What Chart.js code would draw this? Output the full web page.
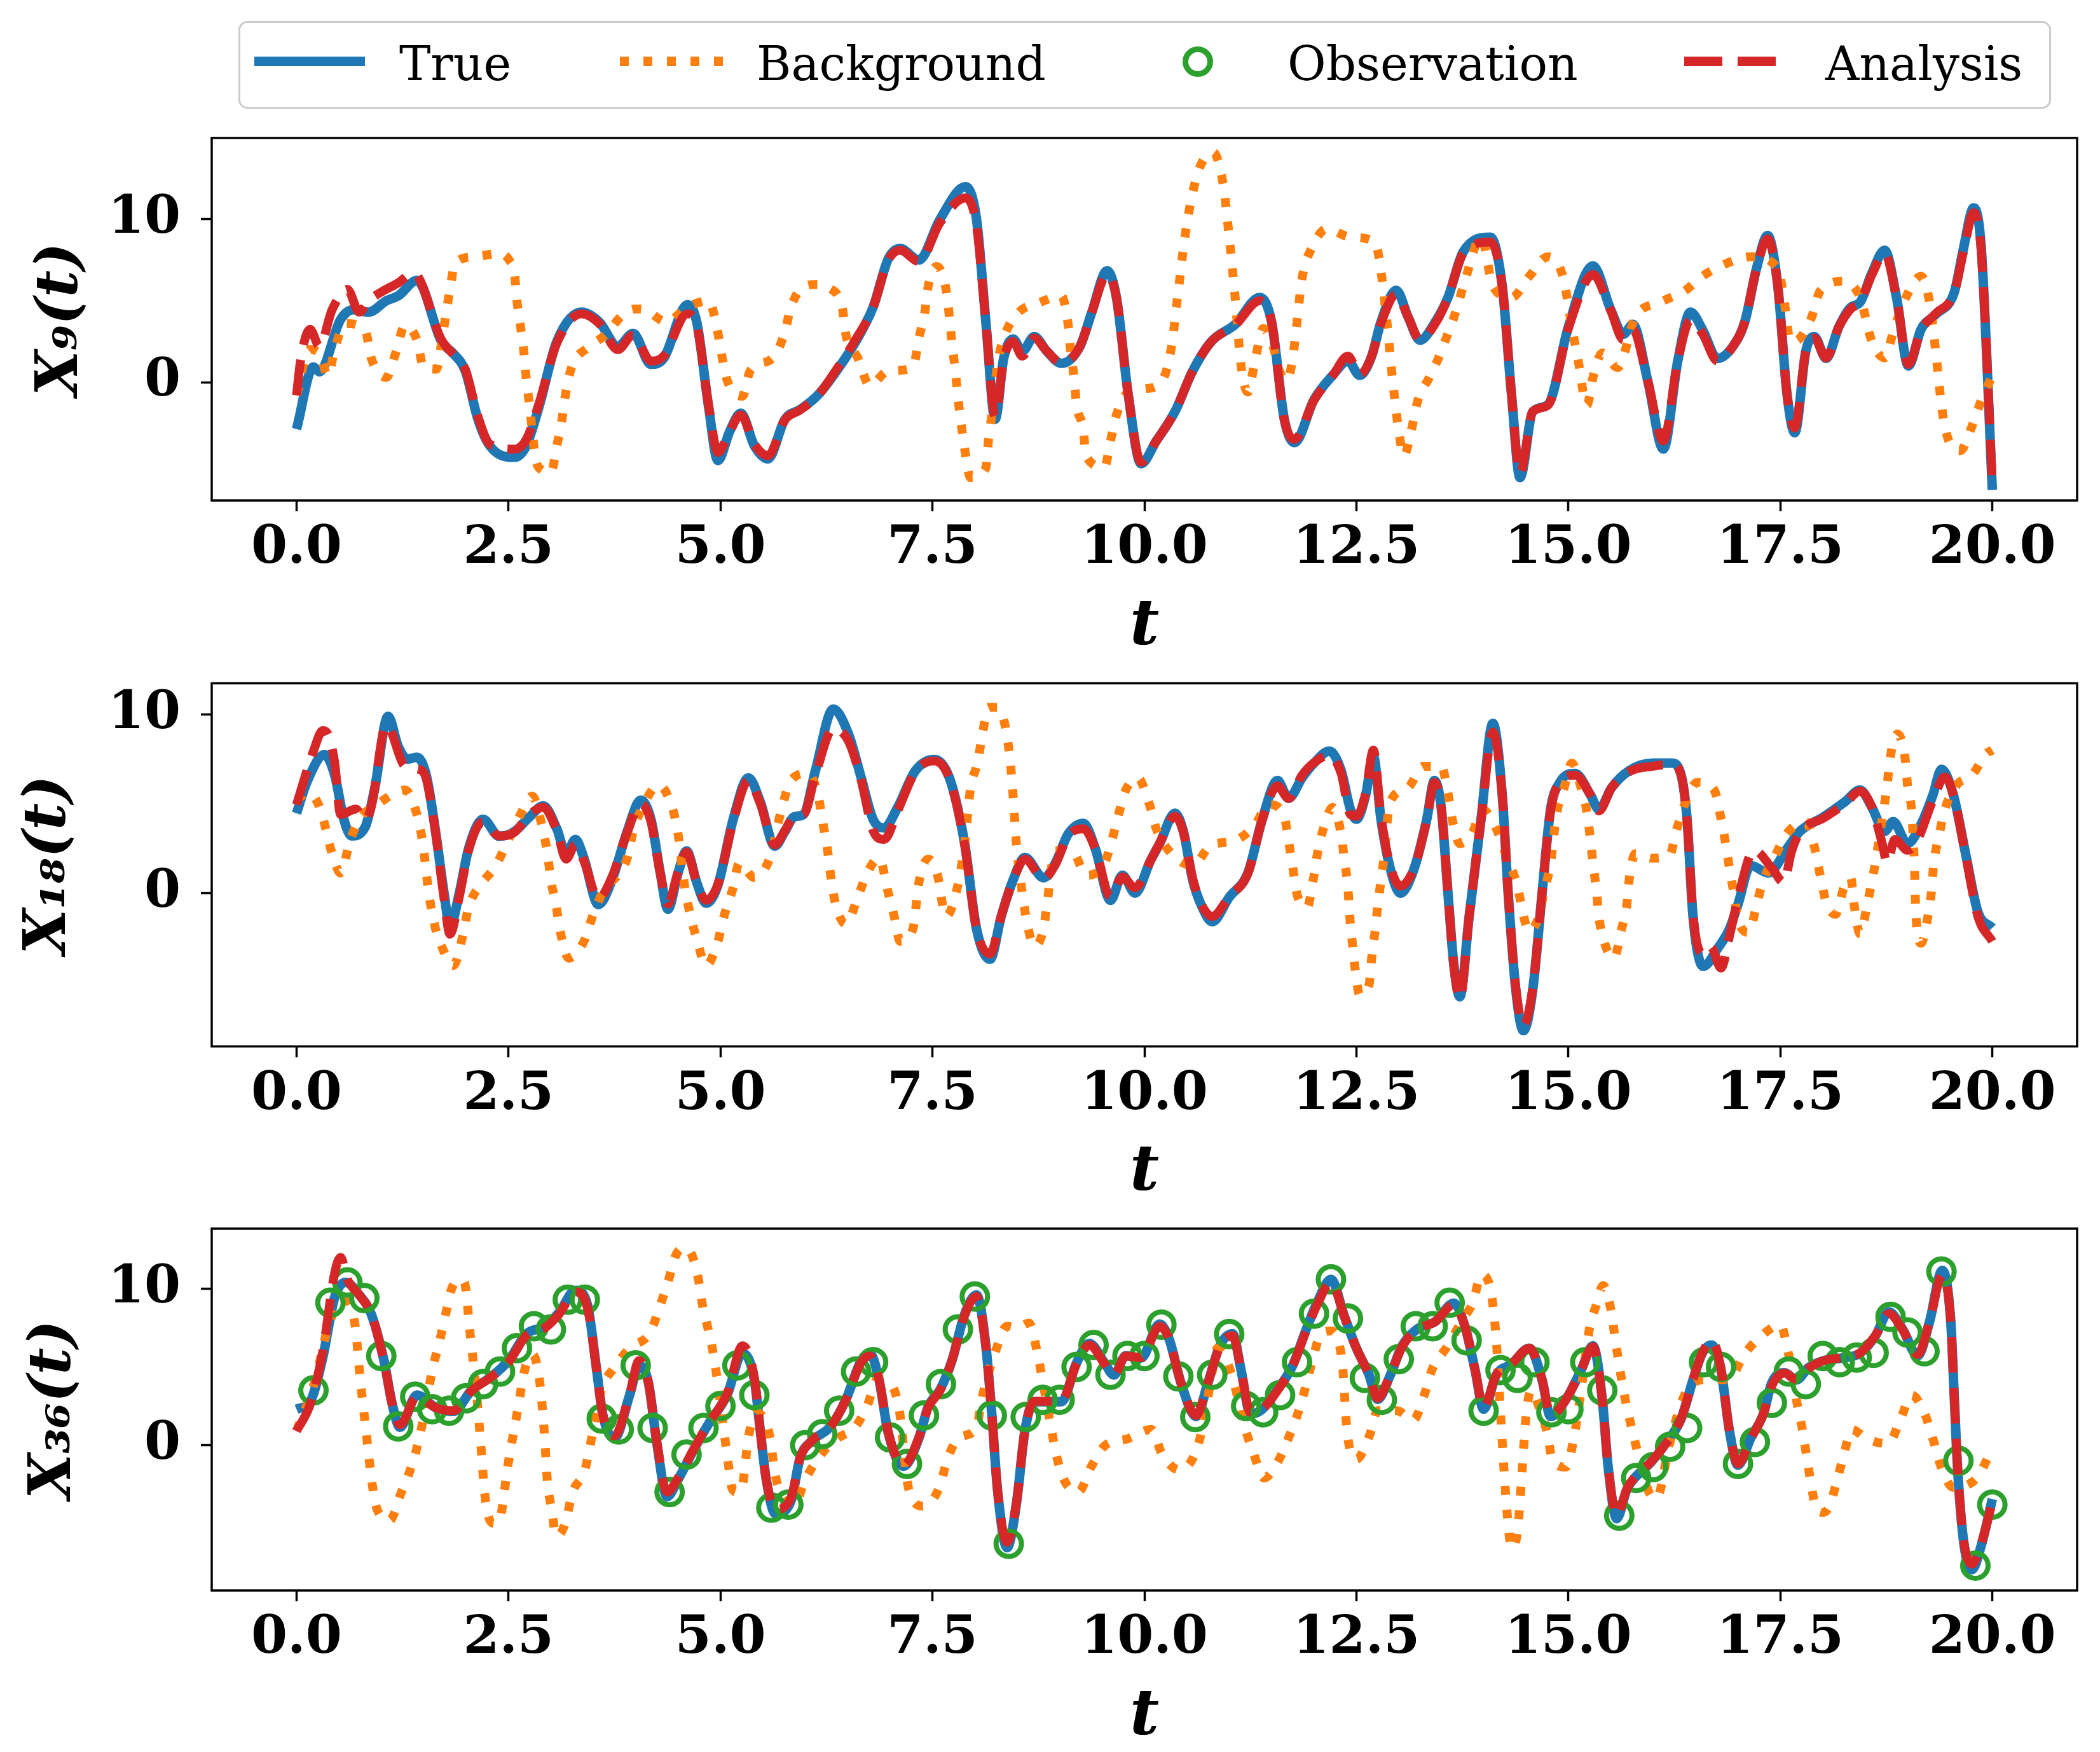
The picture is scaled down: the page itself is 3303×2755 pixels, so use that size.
<!DOCTYPE html>
<html>
<head>
<meta charset="utf-8">
<title>Lorenz-96 analysis</title>
<script src="https://cdn.jsdelivr.net/npm/chart.js@4.4.1/dist/chart.umd.min.js"></script>
<style>
  html, body { margin: 0; padding: 0; background: #fff; }
  body { width: 3303px; height: 2755px; position: relative; overflow: hidden; }
  canvas { position: absolute; left: 0; top: 0; }
  #legend { position: absolute; left: 375px; top: 33px; width: 2851px; height: 138px; box-sizing: border-box;
            border: 3px solid #cccccc; border-radius: 14px; background: #fff; }
  .lg-text { position: absolute; top: 27px; font: 74px 'DejaVu Serif'; line-height: 74px; color: #000; white-space: nowrap; }
  .lg-handle { position: absolute; }
</style>
</head>
<body>
<div id="legend"></div>
<canvas id="c1" width="3303" height="2755"></canvas>
<canvas id="c2" width="3303" height="2755"></canvas>
<canvas id="c3" width="3303" height="2755"></canvas>
<script>
// ---------------------------------------------------------------- data ([t, value])
var xTicks = [0, 2.5, 5, 7.5, 10, 12.5, 15, 17.5, 20];
var yTicks = [0, 10];
var seriesNames = ['True', 'Background', 'Observation', 'Analysis'];

var x9True = [[0,-2.87],[0.2,0.94],[0.27,0.64],[0.52,3.85],[0.67,4.45],[0.85,4.3],[1.06,5.0],[1.2,5.3],[1.42,6.24],[1.71,2.5],[1.85,1.76],[1.99,0.7],[2.14,-2.27],[2.28,-3.9],[2.57,-4.6],[2.71,-3.9],[2.86,-1.5],[3.07,2.5],[3.36,4.3],[3.57,3.7],[3.79,2.2],[3.97,3.0],[4.18,1.1],[4.33,1.46],[4.61,4.75],[4.72,3.7],[4.86,-1.5],[4.97,-4.8],[5.11,-3.0],[5.24,-1.9],[5.4,-3.9],[5.56,-4.7],[5.76,-2.27],[5.94,-1.67],[6.15,-0.78],[6.37,0.7],[6.58,2.36],[6.8,4.6],[6.98,7.58],[7.12,8.2],[7.34,7.5],[7.59,10.0],[7.89,12.0],[8.02,10.0],[8.13,3.7],[8.24,-2.27],[8.34,1.46],[8.45,2.66],[8.56,1.9],[8.7,2.8],[8.85,1.9],[9.02,1.16],[9.24,2.2],[9.38,4.3],[9.56,6.84],[9.67,5.2],[9.81,-0.78],[9.96,-5.0],[10.14,-3.6],[10.36,-1.8],[10.57,0.7],[10.79,2.5],[11.07,3.55],[11.36,5.2],[11.5,3.7],[11.65,-2.27],[11.77,-3.7],[12.0,-1.07],[12.22,0.42],[12.4,1.3],[12.54,0.42],[12.68,1.6],[12.79,3.7],[12.97,5.64],[13.11,4.0],[13.25,2.58],[13.43,3.7],[13.58,5.2],[13.76,8.0],[14.08,8.9],[14.22,5.9],[14.33,-0.78],[14.43,-5.85],[14.58,-1.8],[14.76,-1.37],[15.0,3.4],[15.29,7.13],[15.5,4.45],[15.65,2.95],[15.76,3.55],[15.94,0],[16.12,-4.1],[16.29,1.3],[16.44,4.3],[16.58,3.25],[16.76,1.46],[16.94,2.2],[17.08,3.7],[17.22,7.0],[17.35,9.0],[17.47,5.9],[17.58,-0.78],[17.67,-3.1],[17.8,1.9],[17.9,2.8],[18.04,1.46],[18.19,3.4],[18.33,4.6],[18.44,4.9],[18.58,6.7],[18.73,8.1],[18.87,5.2],[19.01,1.0],[19.16,3.25],[19.33,4.15],[19.55,5.5],[19.66,8.2],[19.78,10.7],[19.87,8.2],[20.0,-6.6]];

var x9Analysis = [[0,-0.8],[0.05,1.4],[0.16,3.25],[0.27,2.2],[0.42,4.45],[0.6,5.7],[0.74,4.3],[0.85,5.0],[0.99,5.5],[1.2,6.1],[1.38,6.7],[1.71,2.6],[1.85,1.7],[1.99,0.8],[2.14,-2.1],[2.28,-3.8],[2.57,-4.1],[2.71,-3.5],[2.86,-1.3],[3.07,2.4],[3.36,4.2],[3.57,3.6],[3.79,2.0],[3.97,2.9],[4.18,1.3],[4.33,1.6],[4.61,4.2],[4.72,3.5],[4.86,-1.4],[4.97,-4.3],[5.11,-3.0],[5.24,-2.0],[5.4,-3.8],[5.56,-4.5],[5.76,-2.3],[5.94,-1.7],[6.15,-0.8],[6.37,0.8],[6.58,2.5],[6.8,4.6],[6.98,7.5],[7.12,8.1],[7.34,7.4],[7.59,9.8],[7.89,11.3],[8.02,9.6],[8.13,3.7],[8.24,-2.1],[8.34,1.4],[8.45,2.5],[8.56,1.6],[8.7,2.7],[8.85,1.9],[9.02,1.2],[9.24,2.2],[9.38,4.3],[9.56,6.6],[9.67,5.2],[9.81,-0.8],[9.96,-4.9],[10.14,-3.6],[10.36,-1.8],[10.57,0.7],[10.79,2.5],[11.07,3.5],[11.36,5.0],[11.5,3.7],[11.65,-2.3],[11.77,-3.5],[12.0,-1.1],[12.22,0.4],[12.4,1.6],[12.54,0.5],[12.68,1.6],[12.79,3.6],[12.97,5.4],[13.11,4.0],[13.25,2.6],[13.43,3.6],[13.58,5.2],[13.76,7.9],[14.08,8.6],[14.22,5.9],[14.33,-0.8],[14.43,-5.6],[14.58,-1.8],[14.76,-1.4],[15.0,3.3],[15.29,6.6],[15.5,4.4],[15.65,2.6],[15.76,3.2],[15.94,0],[16.12,-3.6],[16.29,1.3],[16.44,3.8],[16.58,3.0],[16.76,1.3],[16.94,2.2],[17.08,3.7],[17.22,7.0],[17.35,8.8],[17.47,5.9],[17.58,-0.8],[17.67,-2.8],[17.8,1.9],[17.9,2.7],[18.04,1.5],[18.19,3.4],[18.33,4.5],[18.44,4.9],[18.58,6.6],[18.73,7.9],[18.87,5.2],[19.01,1.1],[19.16,3.2],[19.33,4.2],[19.55,5.5],[19.66,8.0],[19.78,10.4],[19.87,8.0],[20.0,-6.2]];

var x9Background = [[0,-0.8],[0.15,2.0],[0.27,1.8],[0.37,0.4],[0.45,2.0],[0.57,3.6],[0.81,3.2],[0.88,1.5],[1.06,0.3],[1.17,1.8],[1.28,3.5],[1.42,2.6],[1.5,0.9],[1.65,0.8],[1.71,2.4],[1.76,4.1],[1.81,5.7],[1.87,7.3],[2.1,7.7],[2.41,7.9],[2.52,7.4],[2.57,6.7],[2.6,5.0],[2.64,3.5],[2.68,1.9],[2.71,0.2],[2.75,-1.5],[2.82,-4.7],[2.9,-5.4],[3.0,-5.55],[3.07,-3.9],[3.13,-2.3],[3.18,-0.5],[3.25,1.0],[3.43,2.1],[3.64,2.9],[3.86,4.2],[4.0,4.5],[4.11,4.45],[4.36,3.7],[4.61,4.6],[4.86,5.0],[4.96,3.3],[5.01,1.8],[5.08,0.1],[5.26,-0.85],[5.35,0.7],[5.62,1.5],[5.76,3.1],[5.83,4.6],[6.0,5.9],[6.15,6.0],[6.28,5.8],[6.44,4.45],[6.48,2.9],[6.62,1.5],[6.76,-0.2],[6.98,0.7],[7.27,0.9],[7.34,2.7],[7.41,4.3],[7.45,5.9],[7.55,7.1],[7.66,5.7],[7.7,4.0],[7.73,2.4],[7.77,0.7],[7.8,-0.9],[7.84,-2.6],[7.88,-4.1],[7.95,-5.85],[8.13,-5.25],[8.16,-3.6],[8.2,-2.0],[8.27,1.2],[8.34,2.7],[8.49,4.15],[8.77,4.9],[9.02,5.3],[9.1,3.55],[9.13,1.9],[9.17,0.3],[9.2,-1.4],[9.28,-2.9],[9.31,-4.5],[9.53,-5.2],[9.6,-3.6],[9.67,-2.0],[9.81,-0.6],[10.0,-0.4],[10.21,0.1],[10.32,2.2],[10.39,5.2],[10.5,9.7],[10.64,13.0],[10.81,14.1],[10.93,12.1],[11.0,8.9],[11.07,5.2],[11.14,1.0],[11.22,-0.6],[11.3,1.2],[11.4,3.3],[11.5,2.5],[11.6,0.6],[11.68,0.1],[11.75,1.5],[11.79,3.25],[11.86,6.4],[11.97,8.2],[12.15,9.4],[12.43,8.9],[12.72,8.6],[12.79,6.8],[12.86,3.7],[12.93,0.0],[13.0,-3.0],[13.06,-4.5],[13.15,-2.9],[13.22,-1.2],[13.36,0.3],[13.47,1.5],[13.58,3.0],[13.68,4.45],[13.79,6.4],[13.97,8.9],[14.11,5.9],[14.33,5.2],[14.54,6.5],[14.76,7.7],[14.94,6.4],[15.04,3.4],[15.11,1.5],[15.22,-1.4],[15.29,0.3],[15.4,1.8],[15.58,0.9],[15.79,4.0],[16.08,4.9],[16.37,5.6],[16.58,6.5],[16.87,7.3],[17.15,7.7],[17.47,7.0],[17.54,5.2],[17.62,2.5],[17.73,2.7],[17.87,4.0],[17.97,5.6],[18.26,6.2],[18.44,5.2],[18.58,2.5],[18.73,1.5],[18.84,3.25],[18.98,5.2],[19.16,6.5],[19.27,4.6],[19.34,1.5],[19.41,-1.8],[19.48,-3.5],[19.62,-4.2],[19.76,-2.7],[19.87,-1.1],[20.0,0.4]];

var x18True = [[0,4.47],[0.13,6.3],[0.33,7.75],[0.45,6.6],[0.56,4.1],[0.65,3.2],[0.81,3.7],[0.92,5.8],[1.08,9.9],[1.2,8.2],[1.31,7.5],[1.42,7.6],[1.53,6.6],[1.64,3.45],[1.74,0],[1.81,-1.87],[1.92,0],[2.03,2.5],[2.2,4.13],[2.39,3.18],[2.57,3.45],[2.75,4.27],[2.91,4.88],[3.07,3.6],[3.18,2.2],[3.29,3.0],[3.39,1.95],[3.56,-0.64],[3.72,0.72],[3.9,3.45],[4.06,5.2],[4.18,4.13],[4.29,1.13],[4.38,-0.9],[4.5,1.13],[4.6,2.36],[4.72,0.6],[4.83,-0.57],[4.97,0.45],[5.15,4.13],[5.33,6.45],[5.47,5.1],[5.64,2.63],[5.76,3.45],[5.87,4.27],[5.98,4.4],[6.12,6.86],[6.33,10.3],[6.51,8.9],[6.66,6.45],[6.8,4.13],[6.93,3.65],[7.09,4.8],[7.3,6.86],[7.52,7.48],[7.7,6.45],[7.88,2.77],[8.02,-2.0],[8.18,-3.7],[8.31,-1.32],[8.45,0.72],[8.59,2.0],[8.81,0.86],[8.95,1.68],[9.1,3.3],[9.28,3.9],[9.42,2.5],[9.6,-0.4],[9.74,1.0],[9.89,0],[10.07,1.8],[10.18,2.77],[10.36,4.47],[10.46,3.45],[10.57,0.72],[10.68,-0.78],[10.8,-1.6],[11.0,-0.23],[11.22,1.13],[11.39,4.13],[11.57,6.3],[11.7,5.3],[11.86,6.45],[12.0,7.27],[12.18,7.95],[12.32,6.86],[12.43,4.68],[12.5,4.13],[12.61,5.5],[12.7,7.68],[12.79,4.13],[12.9,1.36],[13.02,0],[13.18,1.36],[13.33,4.13],[13.42,6.3],[13.5,4.8],[13.58,0],[13.65,-4.05],[13.72,-5.8],[13.83,-1.3],[13.97,4.13],[14.11,9.5],[14.22,5.5],[14.29,0],[14.38,-5.4],[14.47,-7.7],[14.58,-5.4],[14.69,0],[14.79,4.68],[14.9,6.2],[15.08,6.7],[15.26,5.5],[15.36,4.68],[15.51,5.9],[15.72,6.86],[16.0,7.27],[16.22,7.27],[16.33,6.6],[16.4,4.13],[16.47,-1.3],[16.59,-4.1],[16.76,-3.1],[16.9,-2.0],[17.0,-0.64],[17.15,1.54],[17.36,1.13],[17.58,2.5],[17.73,3.45],[18.01,4.27],[18.26,5.1],[18.44,5.77],[18.58,4.8],[18.73,3.45],[18.83,4.0],[19.0,2.77],[19.16,3.86],[19.3,5.5],[19.4,6.93],[19.54,5.5],[19.69,2.08],[19.83,-1.05],[20.0,-1.94]];

var x18Analysis = [[0,4.95],[0.2,7.95],[0.31,9.1],[0.38,8.8],[0.45,7.3],[0.52,4.4],[0.7,4.7],[0.81,4.1],[0.88,4.8],[1.06,9.4],[1.28,7.1],[1.46,6.9],[1.53,6.4],[1.64,3.4],[1.74,-0.3],[1.81,-2.3],[1.92,-0.2],[2.03,2.4],[2.2,4.0],[2.39,3.2],[2.57,3.4],[2.75,4.4],[2.91,4.8],[3.07,3.5],[3.18,1.9],[3.29,2.7],[3.39,1.8],[3.56,-0.3],[3.72,0.9],[3.9,3.4],[4.06,5.0],[4.18,4.0],[4.29,1.1],[4.38,-0.6],[4.5,1.2],[4.6,2.3],[4.72,0.6],[4.83,-0.4],[4.97,0.5],[5.15,4.0],[5.33,6.3],[5.47,5.0],[5.64,2.7],[5.76,3.5],[5.87,4.3],[5.98,4.4],[6.12,6.6],[6.33,9.2],[6.51,8.5],[6.66,6.3],[6.8,3.5],[6.93,3.0],[7.09,4.6],[7.3,6.8],[7.52,7.4],[7.7,6.4],[7.88,2.7],[8.02,-2.0],[8.18,-3.4],[8.31,-1.3],[8.45,0.7],[8.59,1.9],[8.81,0.8],[8.95,1.6],[9.1,3.2],[9.28,3.6],[9.42,2.5],[9.6,-0.2],[9.74,0.9],[9.89,0.3],[10.07,1.8],[10.18,2.8],[10.36,4.3],[10.46,3.4],[10.57,0.8],[10.68,-0.7],[10.8,-1.3],[11.0,-0.2],[11.22,1.1],[11.39,4.1],[11.57,6.0],[11.7,5.3],[11.86,6.6],[12.0,7.3],[12.18,7.7],[12.32,6.7],[12.43,4.4],[12.5,4.3],[12.61,5.6],[12.7,8.0],[12.79,4.3],[12.9,1.5],[13.02,0.4],[13.18,1.4],[13.33,4.1],[13.42,6.2],[13.5,4.8],[13.58,0],[13.65,-4.1],[13.72,-5.9],[13.83,-1.3],[13.97,4.1],[14.11,9.0],[14.22,5.5],[14.29,0],[14.38,-5.3],[14.47,-7.4],[14.58,-5.3],[14.69,0],[14.79,4.6],[14.9,6.2],[15.08,6.6],[15.26,5.5],[15.36,4.6],[15.51,5.9],[15.72,6.8],[16.0,7.1],[16.22,7.2],[16.33,6.6],[16.4,4.1],[16.47,-1.2],[16.58,-3.4],[16.68,-3.0],[16.8,-4.2],[16.9,-2.4],[17.0,-0.3],[17.19,2.4],[17.4,1.4],[17.54,0.6],[17.63,2.3],[17.73,3.4],[18.01,4.2],[18.26,5.0],[18.44,5.7],[18.58,4.8],[18.7,2.8],[18.76,1.7],[18.85,3.0],[19.0,2.4],[19.1,2.8],[19.3,5.2],[19.44,6.5],[19.54,5.5],[19.69,2.0],[19.83,-1.3],[20.0,-2.7]];

var x18Background = [[0,5.2],[0.13,5.6],[0.26,4.95],[0.34,3.7],[0.42,2.2],[0.52,1.13],[0.63,2.9],[0.74,4.13],[0.95,4.95],[1.28,5.77],[1.42,4.4],[1.49,2.77],[1.56,0],[1.64,-2.0],[1.71,-2.96],[1.85,-4.05],[1.96,-2.4],[2.03,-0.78],[2.17,0.45],[2.35,1.54],[2.5,3.0],[2.64,4.4],[2.78,5.43],[2.89,3.86],[2.96,2.2],[3.0,0.72],[3.06,-0.64],[3.11,-2.14],[3.21,-3.64],[3.39,-2.7],[3.49,-1.32],[3.64,0.31],[3.79,1.0],[3.9,1.95],[3.97,3.45],[4.11,5.1],[4.27,6.05],[4.43,4.8],[4.5,3.3],[4.58,0.31],[4.65,-1.32],[4.72,-2.55],[4.83,-4.05],[4.97,-2.7],[5.04,-1.32],[5.15,0.31],[5.22,1.68],[5.4,0.86],[5.58,1.95],[5.72,4.68],[5.83,6.3],[6.03,6.7],[6.15,5.5],[6.21,3.86],[6.26,2.5],[6.33,0],[6.48,-1.73],[6.62,-0.23],[6.73,1.13],[6.87,1.95],[6.98,0],[7.05,-1.32],[7.12,-2.7],[7.27,-2.0],[7.34,0.59],[7.45,1.9],[7.55,1.2],[7.66,-1.3],[7.8,0.45],[7.88,2.77],[7.95,5.9],[8.03,7.27],[8.09,8.9],[8.16,10.4],[8.27,10.4],[8.38,8.77],[8.44,6.2],[8.49,2.77],[8.56,0],[8.63,-2.0],[8.7,-2.96],[8.81,-2.0],[8.85,-0.64],[8.95,2.36],[9.17,2.2],[9.31,1.0],[9.53,1.68],[9.63,3.2],[9.71,4.68],[9.78,5.77],[9.92,6.45],[10.06,4.95],[10.14,3.6],[10.32,2.2],[10.57,1.54],[10.79,2.7],[11.04,2.9],[11.29,3.72],[11.47,4.95],[11.65,4.27],[11.7,2.9],[11.75,1.43],[11.8,-0.07],[11.92,-0.78],[11.99,0.72],[12.04,2.2],[12.11,3.6],[12.22,4.8],[12.32,3.3],[12.36,1.8],[12.4,0.31],[12.42,-1.2],[12.45,-2.7],[12.48,-4.05],[12.54,-5.7],[12.65,-5.1],[12.68,-3.64],[12.72,-2.14],[12.75,-0.78],[12.79,0.72],[12.83,2.2],[12.86,3.86],[12.9,5.1],[13.11,5.9],[13.29,7.1],[13.5,7.1],[13.58,5.6],[13.63,4.13],[13.72,2.77],[13.86,3.3],[13.99,4.68],[14.15,3.6],[14.26,2.2],[14.38,0.72],[14.54,-2.14],[14.65,-1.32],[14.71,0],[14.79,1.68],[14.86,4.4],[14.95,5.9],[15.04,7.27],[15.14,6.05],[15.22,4.5],[15.26,3.0],[15.29,1.68],[15.33,0.2],[15.36,-1.32],[15.42,-2.7],[15.54,-3.64],[15.62,-2.14],[15.69,-0.64],[15.72,0.86],[15.79,2.2],[15.99,1.95],[16.19,2.08],[16.28,3.6],[16.37,4.95],[16.52,6.2],[16.72,5.77],[16.79,4.4],[16.85,2.9],[16.9,1.4],[16.95,0.04],[17.0,-1.46],[17.13,-2.2],[17.22,-0.64],[17.3,0.72],[17.44,2.08],[17.57,3.3],[17.8,4.0],[17.9,2.63],[17.97,1.0],[18.04,-0.5],[18.15,-1.19],[18.25,0.3],[18.33,0.86],[18.37,-0.64],[18.44,-2.28],[18.53,-0.5],[18.62,1.68],[18.7,4.13],[18.76,6.05],[18.79,7.4],[18.88,8.9],[18.97,7.6],[19.0,6.05],[19.05,4.5],[19.08,1.68],[19.1,-1.32],[19.16,-2.8],[19.24,-1.32],[19.28,0],[19.31,1.68],[19.37,3.18],[19.44,4.68],[19.58,6.05],[19.76,6.6],[19.93,7.8],[20.0,8.0]];

var x36True = [[0,2.3],[0.16,2.77],[0.31,5.6],[0.45,9.45],[0.58,10.4],[0.74,9.6],[0.88,8.4],[1.03,5.44],[1.13,2.6],[1.22,1.14],[1.42,3.2],[1.64,2.4],[1.85,2.15],[2.07,3.55],[2.28,4.3],[2.5,5.4],[2.71,7.1],[2.93,7.6],[3.1,8.5],[3.29,9.9],[3.43,9.0],[3.54,4.8],[3.61,2.0],[3.75,0.44],[3.93,3.23],[4.04,5.1],[4.15,4.0],[4.25,0.12],[4.37,-3.3],[4.5,-2.2],[4.68,-0.34],[4.86,1.37],[5.08,3.23],[5.26,5.88],[5.4,4.17],[5.47,0.9],[5.54,-2.2],[5.65,-4.4],[5.83,-3.6],[5.94,-0.8],[6.08,0.28],[6.3,1.2],[6.48,2.92],[6.66,5.4],[6.76,5.88],[6.87,4.17],[6.98,0.75],[7.16,-1.35],[7.34,0.44],[7.45,2.46],[7.59,3.55],[7.73,5.4],[7.88,8.37],[8.02,9.6],[8.13,6.35],[8.2,2.0],[8.27,-3.0],[8.38,-6.56],[8.49,-3.76],[8.59,0.9],[8.7,2.77],[8.88,2.77],[9.02,2.77],[9.2,5.26],[9.35,6.5],[9.53,5.26],[9.64,4.48],[9.78,5.72],[9.96,5.57],[10.18,7.74],[10.29,6.8],[10.43,4.0],[10.61,1.83],[10.75,4.0],[10.89,6.35],[11.04,7.12],[11.14,4.79],[11.25,2.0],[11.39,2.3],[11.57,3.55],[11.75,5.1],[11.9,7.28],[12.04,9.14],[12.2,10.6],[12.36,8.2],[12.5,6.2],[12.65,4.48],[12.75,2.92],[12.9,4.48],[13.04,6.35],[13.22,7.43],[13.43,7.9],[13.65,9.07],[13.78,7.59],[13.9,4.79],[14.0,2.3],[14.15,4.48],[14.33,5.18],[14.54,6.2],[14.69,4.17],[14.79,1.83],[14.97,2.92],[15.15,4.79],[15.29,6.35],[15.4,2.92],[15.47,-1.43],[15.57,-4.7],[15.69,-2.83],[15.79,-2.05],[15.97,-1.12],[16.15,0.12],[16.33,1.68],[16.47,4.17],[16.58,5.88],[16.69,6.4],[16.8,4.79],[16.9,0.9],[17.0,-1.28],[17.15,0.44],[17.3,2.0],[17.4,4.0],[17.55,4.63],[17.69,4.17],[17.83,4.95],[18.01,5.4],[18.23,5.57],[18.44,5.88],[18.62,6.97],[18.78,8.52],[18.94,7.43],[19.12,5.72],[19.26,7.9],[19.41,11.17],[19.51,7.9],[19.55,3.23],[19.59,-1.43],[19.66,-6.1],[19.76,-7.96],[19.87,-6.4],[20.0,-3.45]];

var x36Analysis = [[0,0.9],[0.16,2.6],[0.31,6.0],[0.45,11.0],[0.52,12.0],[0.6,10.6],[0.74,9.6],[0.88,8.4],[1.03,5.4],[1.13,2.6],[1.22,1.3],[1.42,3.1],[1.64,2.4],[1.85,2.2],[2.07,3.5],[2.28,4.3],[2.5,5.3],[2.71,7.0],[2.93,7.5],[3.1,8.4],[3.29,9.8],[3.43,8.8],[3.54,4.8],[3.61,2.0],[3.75,0.6],[3.93,3.3],[4.04,5.4],[4.15,4.0],[4.25,0.2],[4.37,-3.0],[4.5,-2.1],[4.68,-0.3],[4.86,1.4],[5.08,3.3],[5.26,6.35],[5.4,4.3],[5.47,0.9],[5.54,-2.2],[5.65,-4.1],[5.83,-3.4],[5.94,-0.8],[6.08,0.3],[6.3,1.2],[6.48,2.9],[6.66,5.3],[6.76,5.7],[6.87,4.2],[6.98,0.8],[7.16,-1.3],[7.34,0.5],[7.45,2.4],[7.59,3.5],[7.73,5.4],[7.88,8.3],[8.02,9.5],[8.13,6.3],[8.2,2.0],[8.27,-3.0],[8.38,-6.2],[8.49,-3.7],[8.59,0.9],[8.7,2.8],[8.88,2.8],[9.02,2.8],[9.2,5.2],[9.35,6.4],[9.53,5.2],[9.64,4.5],[9.78,5.7],[9.96,5.6],[10.18,7.6],[10.29,6.8],[10.43,4.0],[10.61,1.9],[10.75,4.0],[10.89,6.3],[11.04,7.0],[11.14,4.8],[11.25,2.1],[11.39,2.3],[11.57,3.5],[11.75,5.1],[11.9,7.2],[12.04,9.0],[12.2,10.4],[12.36,8.2],[12.5,6.2],[12.65,4.5],[12.75,3.0],[12.9,4.5],[13.04,6.3],[13.22,7.4],[13.43,7.9],[13.65,9.0],[13.78,7.6],[13.9,4.8],[14.0,2.4],[14.15,4.5],[14.33,5.2],[14.54,6.2],[14.69,4.2],[14.79,1.9],[14.97,2.9],[15.15,4.8],[15.29,6.3],[15.4,2.9],[15.47,-1.4],[15.57,-4.5],[15.69,-2.8],[15.79,-2.0],[15.97,-1.1],[16.15,0.1],[16.33,1.7],[16.47,4.2],[16.58,5.9],[16.69,6.7],[16.8,4.9],[16.9,0.9],[17.0,-1.2],[17.15,0.4],[17.3,2.0],[17.4,3.8],[17.55,4.6],[17.69,4.2],[17.83,4.9],[18.01,5.4],[18.23,5.6],[18.44,5.9],[18.62,7.0],[18.78,8.4],[18.94,7.4],[19.12,5.8],[19.26,7.9],[19.41,10.9],[19.51,7.9],[19.55,3.2],[19.59,-1.4],[19.66,-6.0],[19.76,-7.6],[19.87,-6.3],[20.0,-3.6]];

var x36Background = [[0,0.9],[0.2,3.8],[0.4,8.0],[0.55,9.3],[0.69,7.7],[0.75,4.3],[0.82,0.9],[0.89,-2.4],[0.95,-4.1],[1.1,-4.8],[1.23,-3.1],[1.34,-1.6],[1.45,0.5],[1.61,5.0],[1.69,6.7],[1.76,8.4],[1.83,10.0],[1.92,10.6],[1.98,10.4],[2.05,7.0],[2.12,3.5],[2.17,0.3],[2.22,-3.1],[2.28,-4.8],[2.34,-5.0],[2.4,-4.7],[2.49,-1.4],[2.6,2.0],[2.7,5.0],[2.78,5.8],[2.86,4.4],[2.92,1.0],[2.96,-2.4],[3.01,-4.1],[3.06,-5.8],[3.12,-5.6],[3.18,-4.8],[3.25,-3.1],[3.4,-1.6],[3.5,1.0],[3.6,3.6],[3.74,4.9],[3.93,6.2],[4.17,7.2],[4.28,8.8],[4.38,10.4],[4.47,12.1],[4.56,12.6],[4.65,12.3],[4.74,10.6],[4.79,8.9],[4.86,7.3],[4.92,5.7],[4.97,3.9],[5.03,1.4],[5.09,-1.1],[5.14,-2.8],[5.2,-3.0],[5.25,-2.8],[5.33,0.5],[5.42,2.1],[5.52,1.6],[5.58,0.6],[5.65,-2.0],[5.75,-3.4],[5.87,-3.8],[6.0,-2.2],[6.2,-0.5],[6.4,0.5],[6.58,1.1],[6.73,2.5],[6.85,4.2],[7.0,4.0],[7.11,2.2],[7.22,-2.8],[7.39,-3.9],[7.59,-2.6],[7.67,-1.0],[7.82,0.5],[8.02,1.1],[8.08,2.9],[8.25,6.1],[8.38,7.6],[8.5,7.5],[8.64,7.8],[8.73,6.1],[8.79,4.4],[8.9,1.1],[8.96,-0.6],[9.05,-2.2],[9.22,-3.0],[9.37,-1.4],[9.54,0.0],[9.8,0.4],[10.08,1.0],[10.21,-0.6],[10.42,-1.6],[10.6,-0.5],[10.7,1.5],[10.79,4.4],[10.86,6.2],[11.03,4.5],[11.18,1.2],[11.28,-0.4],[11.41,-2.1],[11.58,-1.0],[11.71,0.6],[11.82,2.2],[11.91,3.9],[11.99,5.6],[12.08,7.1],[12.2,7.3],[12.29,6.6],[12.34,4.9],[12.38,1.5],[12.42,-0.2],[12.5,-0.9],[12.66,0.7],[12.75,2.2],[12.98,2.2],[13.17,1.6],[13.3,3.2],[13.39,4.8],[13.57,6.3],[13.75,8.0],[13.88,9.2],[13.97,10.9],[14.08,10.0],[14.15,6.7],[14.2,2.0],[14.24,-1.5],[14.28,-4.5],[14.33,-6.6],[14.4,-5.5],[14.45,-2.0],[14.5,1.8],[14.56,3.5],[14.65,2.5],[14.75,0.8],[14.81,-0.9],[14.97,-1.4],[15.06,0.3],[15.15,3.5],[15.25,7.5],[15.32,8.8],[15.41,10.2],[15.5,8.7],[15.56,6.5],[15.65,3.5],[15.75,1.0],[15.87,-1.5],[15.95,-3.0],[16.04,-3.4],[16.19,0.0],[16.37,3.2],[16.61,4.2],[16.9,4.2],[17.06,5.7],[17.28,7.0],[17.5,7.7],[17.59,6.0],[17.7,2.6],[17.76,1.0],[17.81,-0.7],[17.86,-2.4],[17.92,-4.0],[18.0,-4.3],[18.08,-3.9],[18.17,-2.2],[18.25,-0.6],[18.34,1.0],[18.52,0.4],[18.77,0.1],[18.92,1.7],[19.05,3.2],[19.21,1.9],[19.3,0.4],[19.39,-1.3],[19.54,-2.7],[19.68,-2.6],[19.83,-2.0],[20.0,-0.2]];

var x36Observation = [[0.2,3.5],[0.4,9.1],[0.6,10.4],[0.8,9.4],[1.0,5.7],[1.2,1.2],[1.4,3.1],[1.6,2.3],[1.8,2.2],[2.0,3.0],[2.2,3.9],[2.4,4.7],[2.6,6.2],[2.8,7.6],[3.0,7.4],[3.2,9.3],[3.4,9.3],[3.6,1.7],[3.8,1.0],[4.0,5.1],[4.2,1.1],[4.4,-3.0],[4.6,-0.6],[4.8,1.1],[5.0,2.5],[5.2,5.1],[5.4,3.2],[5.6,-4.0],[5.8,-3.8],[6.0,0.0],[6.2,0.7],[6.4,2.2],[6.6,4.7],[6.8,5.3],[7.0,0.5],[7.2,-1.2],[7.4,1.9],[7.6,3.9],[7.8,7.4],[8.0,9.5],[8.2,1.9],[8.4,-6.3],[8.6,1.8],[8.8,2.9],[9.0,2.9],[9.2,5.0],[9.4,6.4],[9.6,4.5],[9.8,5.7],[10.0,5.7],[10.2,7.7],[10.4,4.4],[10.6,1.8],[10.8,4.5],[11.0,7.1],[11.2,2.5],[11.4,2.1],[11.6,3.2],[11.8,5.3],[12.0,8.4],[12.2,10.6],[12.4,8.1],[12.6,4.3],[12.8,2.9],[13.0,5.5],[13.2,7.6],[13.4,7.6],[13.6,9.1],[13.8,6.7],[14.0,2.2],[14.2,4.8],[14.4,4.3],[14.6,5.3],[14.8,2.1],[15.0,2.3],[15.2,5.3],[15.4,3.5],[15.6,-4.5],[15.8,-2.1],[16.0,-1.4],[16.2,-0.1],[16.4,1.1],[16.6,5.3],[16.8,5.0],[17.0,-1.2],[17.2,0.2],[17.4,2.7],[17.6,4.7],[17.8,3.9],[18.0,5.7],[18.2,5.3],[18.4,5.6],[18.6,5.9],[18.8,8.2],[19.0,7.2],[19.2,6.0],[19.4,11.1],[19.6,-1.0],[19.8,-7.7],[20.0,-3.8]];

// ---------------------------------------------------------------- styling
var BLUE = '#1f77b4', ORANGE = '#ff7f0e', GREEN = '#2ca02c', RED = '#d62728';
var FONT = 'DejaVu Serif';
var PAGE_H = 2755;
var AXIS_H = 250;          // height of every x axis box (ticks + label + title)

var panels = [
  { id: 'c1', title: 'X\u2089(t)', top: 217, bottom: 787, min: -7.25, max: 14.98, labelPad: 42,
    truth: x9True, background: x9Background, analysis: x9Analysis, obs: null },
  { id: 'c2', title: 'X\u2081\u2088(t)', top: 1074.5, bottom: 1645.5, min: -8.58, max: 11.74, labelPad: 23,
    truth: x18True, background: x18Background, analysis: x18Analysis, obs: null },
  { id: 'c3', title: 'X\u2083\u2086(t)', top: 1932, bottom: 2501, min: -9.29, max: 13.84, labelPad: 31,
    truth: x36True, background: x36Background, analysis: x36Analysis, obs: x36Observation }
];

// full box round the plot, like matplotlib spines
var framePlugin = {
  id: 'frame',
  afterDraw: function (chart) {
    var a = chart.chartArea, ctx = chart.ctx;
    ctx.save();
    ctx.strokeStyle = '#000';
    ctx.lineWidth = 3.5;
    ctx.strokeRect(a.left, a.top, a.right - a.left, a.bottom - a.top);
    ctx.restore();
  }
};

function lineSet(label, data, color, width, dash, order) {
  return {
    label: label, data: data, order: order,
    borderColor: color, backgroundColor: color,
    borderWidth: width, borderDash: dash, borderCapStyle: 'butt', borderJoinStyle: 'round',
    pointRadius: 0, fill: false, cubicInterpolationMode: 'monotone'
  };
}

function makePanel(p) {
  var datasets = [
    lineSet(seriesNames[0], p.truth, BLUE, 15, [], 4),
    lineSet(seriesNames[1], p.background, ORANGE, 14, [14, 23], 3)
  ];
  if (p.obs) {
    datasets.push({
      label: seriesNames[2], data: p.obs, order: 2, showLine: false,
      pointStyle: 'circle', pointRadius: 20, pointBorderWidth: 8,
      pointBorderColor: GREEN, pointBackgroundColor: 'rgba(0,0,0,0)', borderColor: GREEN
    });
  }
  datasets.push(lineSet(seriesNames[3], p.analysis, RED, 14, [56, 24], 1));

  var tickFont = { family: FONT, size: 82, weight: 'bold' };
  new Chart(document.getElementById(p.id), {
    type: 'line',
    data: { datasets: datasets },
    plugins: [framePlugin],
    options: {
      responsive: false,
      animation: false,
      layout: { padding: { top: p.top, bottom: PAGE_H - p.bottom - AXIS_H, left: 0, right: 36 } },
      plugins: { legend: { display: false }, tooltip: { enabled: false } },
      scales: {
        x: {
          type: 'linear', min: -1, max: 21,
          afterBuildTicks: function (s) { s.ticks = xTicks.map(function (v) { return { value: v }; }); },
          afterFit: function (s) { s.height = AXIS_H; },
          grid: { drawOnChartArea: false, tickLength: 17, tickWidth: 3.5, tickColor: '#000' },
          border: { display: false },
          ticks: { font: tickFont, color: '#000', padding: 11, maxRotation: 0, autoSkip: false,
                   callback: function (v) { return v.toFixed(1); } },
          title: { display: true, text: 't', color: '#000', padding: 0,
                   font: { family: FONT, size: 100, weight: 'bold', style: 'italic', lineHeight: 1 } }
        },
        y: {
          min: p.min, max: p.max,
          afterBuildTicks: function (s) { s.ticks = yTicks.map(function (v) { return { value: v }; }); },
          afterFit: function (s) { s.width = 333; },
          grid: { drawOnChartArea: false, tickLength: 17, tickWidth: 3.5, tickColor: '#000' },
          border: { display: false },
          ticks: { font: tickFont, color: '#000', padding: 32, callback: function (v) { return String(v); } },
          title: { display: true, text: p.title, color: '#000', padding: { top: p.labelPad, bottom: 0 },
                   font: { family: FONT, size: 92, weight: 'bold', style: 'italic' } }
        }
      }
    }
  });
}

panels.forEach(makePanel);

// ---------------------------------------------------------------- legend (html, above the first panel)
var legendItems = [
  { kind: 'solid',  color: BLUE,   handle: 22,   width: 174, text: 250 },
  { kind: 'dotted', color: ORANGE, handle: 597,  width: 174, text: 812 },
  { kind: 'circle', color: GREEN,  handle: 1482, width: 48,  text: 1647 },
  { kind: 'dashed', color: RED,    handle: 2271, width: 144, text: 2493 }
];
var legend = document.getElementById('legend');
legendItems.forEach(function (item, i) {
  var h = document.createElement('div');
  h.className = 'lg-handle';
  if (item.kind === 'circle') {
    h.style.cssText = 'left:' + item.handle + 'px;top:37px;width:48px;height:48px;box-sizing:border-box;' +
      'border:9px solid ' + item.color + ';border-radius:50%;';
  } else {
    var bg = item.color;
    if (item.kind === 'dotted') bg = 'repeating-linear-gradient(to right,' + item.color + ' 0 14px, transparent 14px 37px)';
    if (item.kind === 'dashed') bg = 'repeating-linear-gradient(to right,' + item.color + ' 0 60px, transparent 60px 84px)';
    h.style.cssText = 'left:' + item.handle + 'px;top:53px;width:' + item.width + 'px;height:15px;background:' + bg + ';';
  }
  legend.appendChild(h);
  var t = document.createElement('span');
  t.className = 'lg-text';
  t.style.left = item.text + 'px';
  t.textContent = seriesNames[i];
  legend.appendChild(t);
});
</script>
</body>
</html>
